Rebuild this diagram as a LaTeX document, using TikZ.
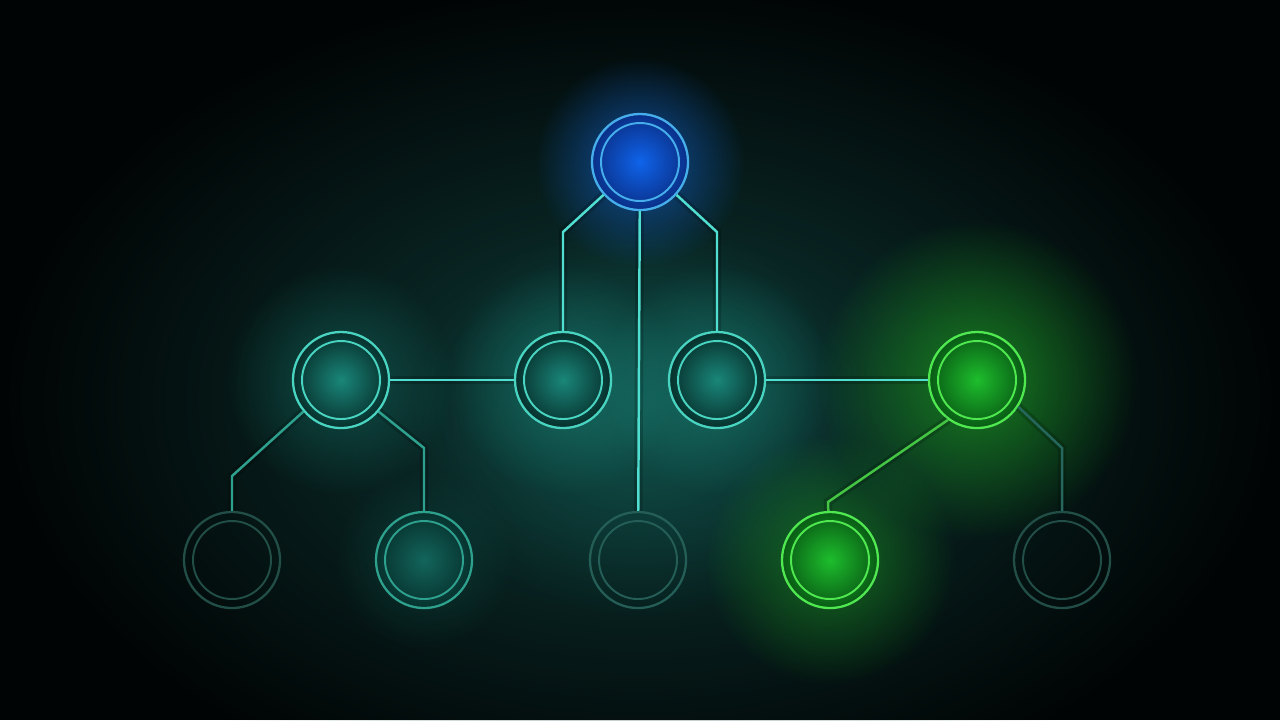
\documentclass[tikz,border=0pt]{standalone}
\usetikzlibrary{fadings}
\definecolor{bgdark}{RGB}{1,4,4}
\definecolor{ambient}{RGB}{14,58,55}
\definecolor{cyanwire}{RGB}{80,222,208}
\definecolor{tealring}{RGB}{72,212,192}
\definecolor{tealmid}{RGB}{46,160,142}
\definecolor{tealedge}{RGB}{8,52,48}
\definecolor{tealcore}{RGB}{26,135,122}
\definecolor{dimring}{RGB}{34,78,72}
\definecolor{bluering}{RGB}{70,175,235}
\definecolor{blueedge}{RGB}{10,50,140}
\definecolor{bluecore}{RGB}{16,100,235}
\definecolor{blueglow}{RGB}{20,95,200}
\definecolor{greenring}{RGB}{80,232,80}
\definecolor{greenedge}{RGB}{10,95,22}
\definecolor{greencore}{RGB}{30,190,45}
\definecolor{greenglow}{RGB}{30,160,35}
\tikzfading[name=softglow, inner color=transparent!0, outer color=transparent!100]
\begin{document}
\begin{tikzpicture}[x=0.01cm,y=-0.01cm]
    \tikzstyle{ring}=[circle, minimum size=0.96cm, inner sep=0pt, line width=0.65pt]
    \tikzstyle{tealnode}=[ring, draw=tealring, fill=tealedge]
    \tikzstyle{bluenode}=[ring, draw=bluering, fill=blueedge]
    \tikzstyle{greennode}=[ring, draw=greenring, fill=greenedge]
    \tikzstyle{dimnode}=[ring, draw=dimring]
    \tikzstyle{wire}=[line width=0.7pt, preaction={draw, line width=2.4pt, opacity=0.18}]
    \useasboundingbox (0,0) rectangle (1280,720);
    \fill[bgdark] (0,0) rectangle (1280,720);
    % glow behind everything
    \fill[ambient, path fading=softglow] (640,400) ellipse (640 and 420);
    \fill[tealcore, opacity=0.35, path fading=softglow] (640,420) ellipse (230 and 200);
    \fill[blueglow, opacity=0.75, path fading=softglow] (640,162) circle (105);
    \fill[tealcore, opacity=0.45, path fading=softglow] (340,380) circle (115);
    \fill[tealcore, opacity=0.55, path fading=softglow] (563,380) circle (115);
    \fill[tealcore, opacity=0.55, path fading=softglow] (717,380) circle (115);
    \fill[tealcore, opacity=0.25, path fading=softglow] (424,560) circle (90);
    \fill[greenglow, opacity=0.75, path fading=softglow] (977,380) circle (160);
    \fill[greenglow, opacity=0.6, path fading=softglow] (830,560) circle (125);
    % bends
    \coordinate (k1) at (563,232);
    \coordinate (k2) at (717,232);
    \coordinate (k3) at (232,476);
    \coordinate (k4) at (424,448);
    \coordinate (k5) at (828,502);
    \coordinate (k6) at (1062,448);
    % nodes
    \node[bluenode] (root) at (640,162) {};
    \node[tealnode] (m1) at (341,380) {};
    \node[tealnode] (m2) at (563,380) {};
    \node[tealnode] (m3) at (717,380) {};
    \node[greennode] (m4) at (977,380) {};
    \node[dimnode] (b1) at (232,560) {};
    \node[tealnode, draw=tealmid] (b2) at (424,560) {};
    \node[dimnode, draw=dimring!80!tealmid] (b3) at (638,560) {};
    \node[greennode] (b4) at (830,560) {};
    \node[dimnode] (b5) at (1062,560) {};
    % wires
    \draw[wire, cyanwire] (root.-138) -- (k1) -- (m2);
    \draw[wire, cyanwire] (root.-42) -- (k2) -- (m3);
    \draw[wire, cyanwire] (root) -- (b3);
    \draw[wire, cyanwire] (m1) -- (m2);
    \draw[wire, cyanwire] (m3) -- (m4);
    \draw[wire, tealmid] (m1.-140) -- (k3) -- (b1);
    \draw[wire, tealmid] (m1.-40) -- (k4) -- (b2);
    \draw[wire, greenring!85!black] (m4.-126) -- (k5) -- (b4);
    \draw[wire, dimring!70!tealmid] (m4.-33) -- (k6) -- (b5);
    % cores and inner rings
    \fill[bluecore, path fading=softglow] (root.center) circle (46);
    \fill[tealcore, path fading=softglow] (m1.center) circle (46);
    \fill[tealcore, path fading=softglow] (m2.center) circle (46);
    \fill[tealcore, path fading=softglow] (m3.center) circle (46);
    \fill[tealcore, opacity=0.6, path fading=softglow] (b2.center) circle (46);
    \fill[greencore, path fading=softglow] (m4.center) circle (46);
    \fill[greencore, path fading=softglow] (b4.center) circle (46);
    \draw[bluering, line width=0.55pt] (root.center) circle (39);
    \draw[tealring, line width=0.55pt] (m1.center) circle (39);
    \draw[tealring, line width=0.55pt] (m2.center) circle (39);
    \draw[tealring, line width=0.55pt] (m3.center) circle (39);
    \draw[greenring, line width=0.55pt] (m4.center) circle (39);
    \draw[dimring, line width=0.55pt] (b1.center) circle (39);
    \draw[tealmid, line width=0.55pt] (b2.center) circle (39);
    \draw[dimring!80!tealmid, line width=0.55pt] (b3.center) circle (39);
    \draw[greenring, line width=0.55pt] (b4.center) circle (39);
    \draw[dimring, line width=0.55pt] (b5.center) circle (39);
\end{tikzpicture}
\end{document}
